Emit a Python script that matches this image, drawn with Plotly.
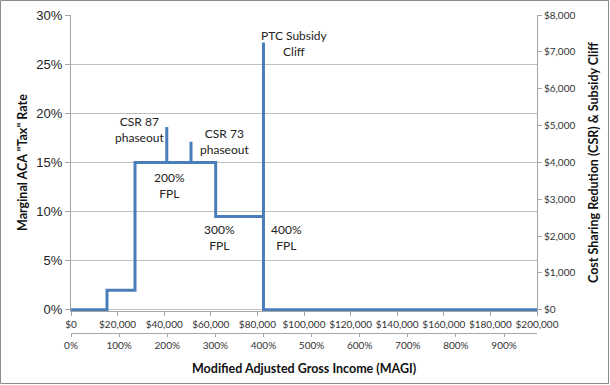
import plotly.graph_objects as go

# ---- data ----
income = [0, 15450, 15450, 27470, 27470, 41100, 41100, 41100, 51500, 51500, 51500,
          62100, 62100, 82600, 82600, 82600, 200000]
tax_rate = [0, 0, 2, 2, 15, 15, 18.6, 15, 15, 17.1, 15, 15, 9.5, 9.5, 27.2, 0, 0]

income_ticks = list(range(0, 200001, 20000))
income_ticktext = ["$0"] + ["${:,}".format(v) for v in income_ticks[1:]]
rate_ticks = [0, 5, 10, 15, 20, 25, 30]
dollar_ticks = list(range(0, 8001, 1000))
fpl = 20650
fpl_pct = [0, 100, 200, 300, 400, 500, 600, 700, 800, 900]

notes = [
    ("CSR 87<br>phaseout", 29300, 18.3),
    ("CSR 73<br>phaseout", 65700, 17.1),
    ("200%<br>FPL", 42100, 12.7),
    ("300%<br>FPL", 63900, 7.4),
    ("400%<br>FPL", 92300, 7.4),
    ("PTC Subsidy<br>Cliff", 95900, 27.1),
]

# ---- layout geometry (pixels) ----
W, H = 610, 385
L, R, T, B = 71, 73, 15, 30
PW, PH = W - L - R, H - T - B
y_bottom_px = 311


def px_x(px):
    return (px - L) / PW


def px_y(py):
    return (H - B - py) / PH


grid = "#BFBFBF"
axis_col = "#A6A6A6"
blue = "#4A7EBB"
tick_font = dict(family="Liberation Sans, Arial", size=13, color="#222")
small_font = dict(family="Lato, Open Sans", size=10, color="#333")
note_font = dict(family="Lato, Open Sans", size=12, color="#222")
title_font = dict(family="Lato, Open Sans", size=12.5, color="#111")

fig = go.Figure()
fig.add_trace(go.Scatter(x=income, y=tax_rate, mode="lines",
                         line=dict(color=blue, width=3), showlegend=False,
                         hoverinfo="skip"))
# invisible trace to activate secondary axes
fig.add_trace(go.Scatter(x=[0], y=[0], xaxis="x2", yaxis="y2", mode="markers",
                         marker=dict(opacity=0), showlegend=False, hoverinfo="skip"))

ydom0 = px_y(y_bottom_px)
ylo = -0.12
fig.update_layout(
    width=W, height=H,
    margin=dict(l=L, r=R, t=T, b=B),
    paper_bgcolor="white", plot_bgcolor="white",
    xaxis=dict(range=[0, 200000], tickvals=income_ticks, ticktext=income_ticktext,
               showgrid=False, showline=True, linecolor=axis_col, linewidth=1,
               ticks="outside", ticklen=4, tickcolor=axis_col, tickfont=small_font,
               tickangle=0, automargin=False,
               zeroline=False, layer="below traces", anchor="y"),
    yaxis=dict(range=[ylo, 30], tickvals=rate_ticks,
               ticktext=[f"{v}%" for v in rate_ticks], domain=[ydom0, 1],
               showgrid=True, gridcolor=grid, gridwidth=1, showline=True,
               linecolor=axis_col, ticks="outside", ticklen=5, tickcolor=axis_col,
               tickfont=tick_font, zeroline=False, layer="below traces",
               automargin=False),
    yaxis2=dict(range=[ylo * 8000 / 30, 8000], tickvals=dollar_ticks,
                ticktext=["$0"] + ["${:,}".format(v) for v in dollar_ticks[1:]],
                overlaying="y", side="right", anchor="x", showgrid=False,
                showline=True, linecolor=axis_col, ticks="outside", ticklen=4,
                tickcolor=axis_col, tickfont=small_font, zeroline=False,
                automargin=False),
    xaxis2=dict(range=[0, 200000], tickvals=[p / 100 * fpl for p in fpl_pct],
                ticktext=[f"{p}%" for p in fpl_pct], overlaying="x", anchor="free",
                position=px_y(332.5), side="bottom", showgrid=False, showline=True,
                linecolor=axis_col, ticks="outside", ticklen=3, tickcolor=axis_col,
                tickfont=small_font, zeroline=False, tickangle=0, automargin=False),
)

for text, xv, yv in notes:
    fig.add_annotation(text=text, x=xv, y=yv, xref="x", yref="y", showarrow=False,
                       font=note_font, align="center", xanchor="center",
                       yanchor="middle")

fig.add_annotation(text="<b>Marginal ACA \"Tax\" Rate</b>", x=px_x(22), y=px_y(163),
                   xref="paper", yref="paper", showarrow=False, textangle=-90,
                   font=title_font, xanchor="center", yanchor="middle")
fig.add_annotation(text="<b>Cost Sharing Redution (CSR) &amp; Subsidy Cliff</b>",
                   x=px_x(593), y=px_y(163), xref="paper", yref="paper",
                   showarrow=False, textangle=-90, font=title_font,
                   xanchor="center", yanchor="middle")
fig.add_annotation(text="<b>Modified Adjusted Gross Income (MAGI)</b>",
                   x=px_x(304), y=px_y(368), xref="paper", yref="paper",
                   showarrow=False, font=title_font, xanchor="center",
                   yanchor="middle")

# outer frame
fig.add_shape(type="rect", xref="paper", yref="paper",
              x0=px_x(0.5), x1=px_x(608.5), y0=px_y(383.5), y1=px_y(0.5),
              line=dict(color="#8C8C8C", width=1), fillcolor="rgba(0,0,0,0)")

fig.write_html("out.html", config={"displayModeBar": False},
               post_script="document.body.style.margin='0';document.body.style.overflow='hidden';")
